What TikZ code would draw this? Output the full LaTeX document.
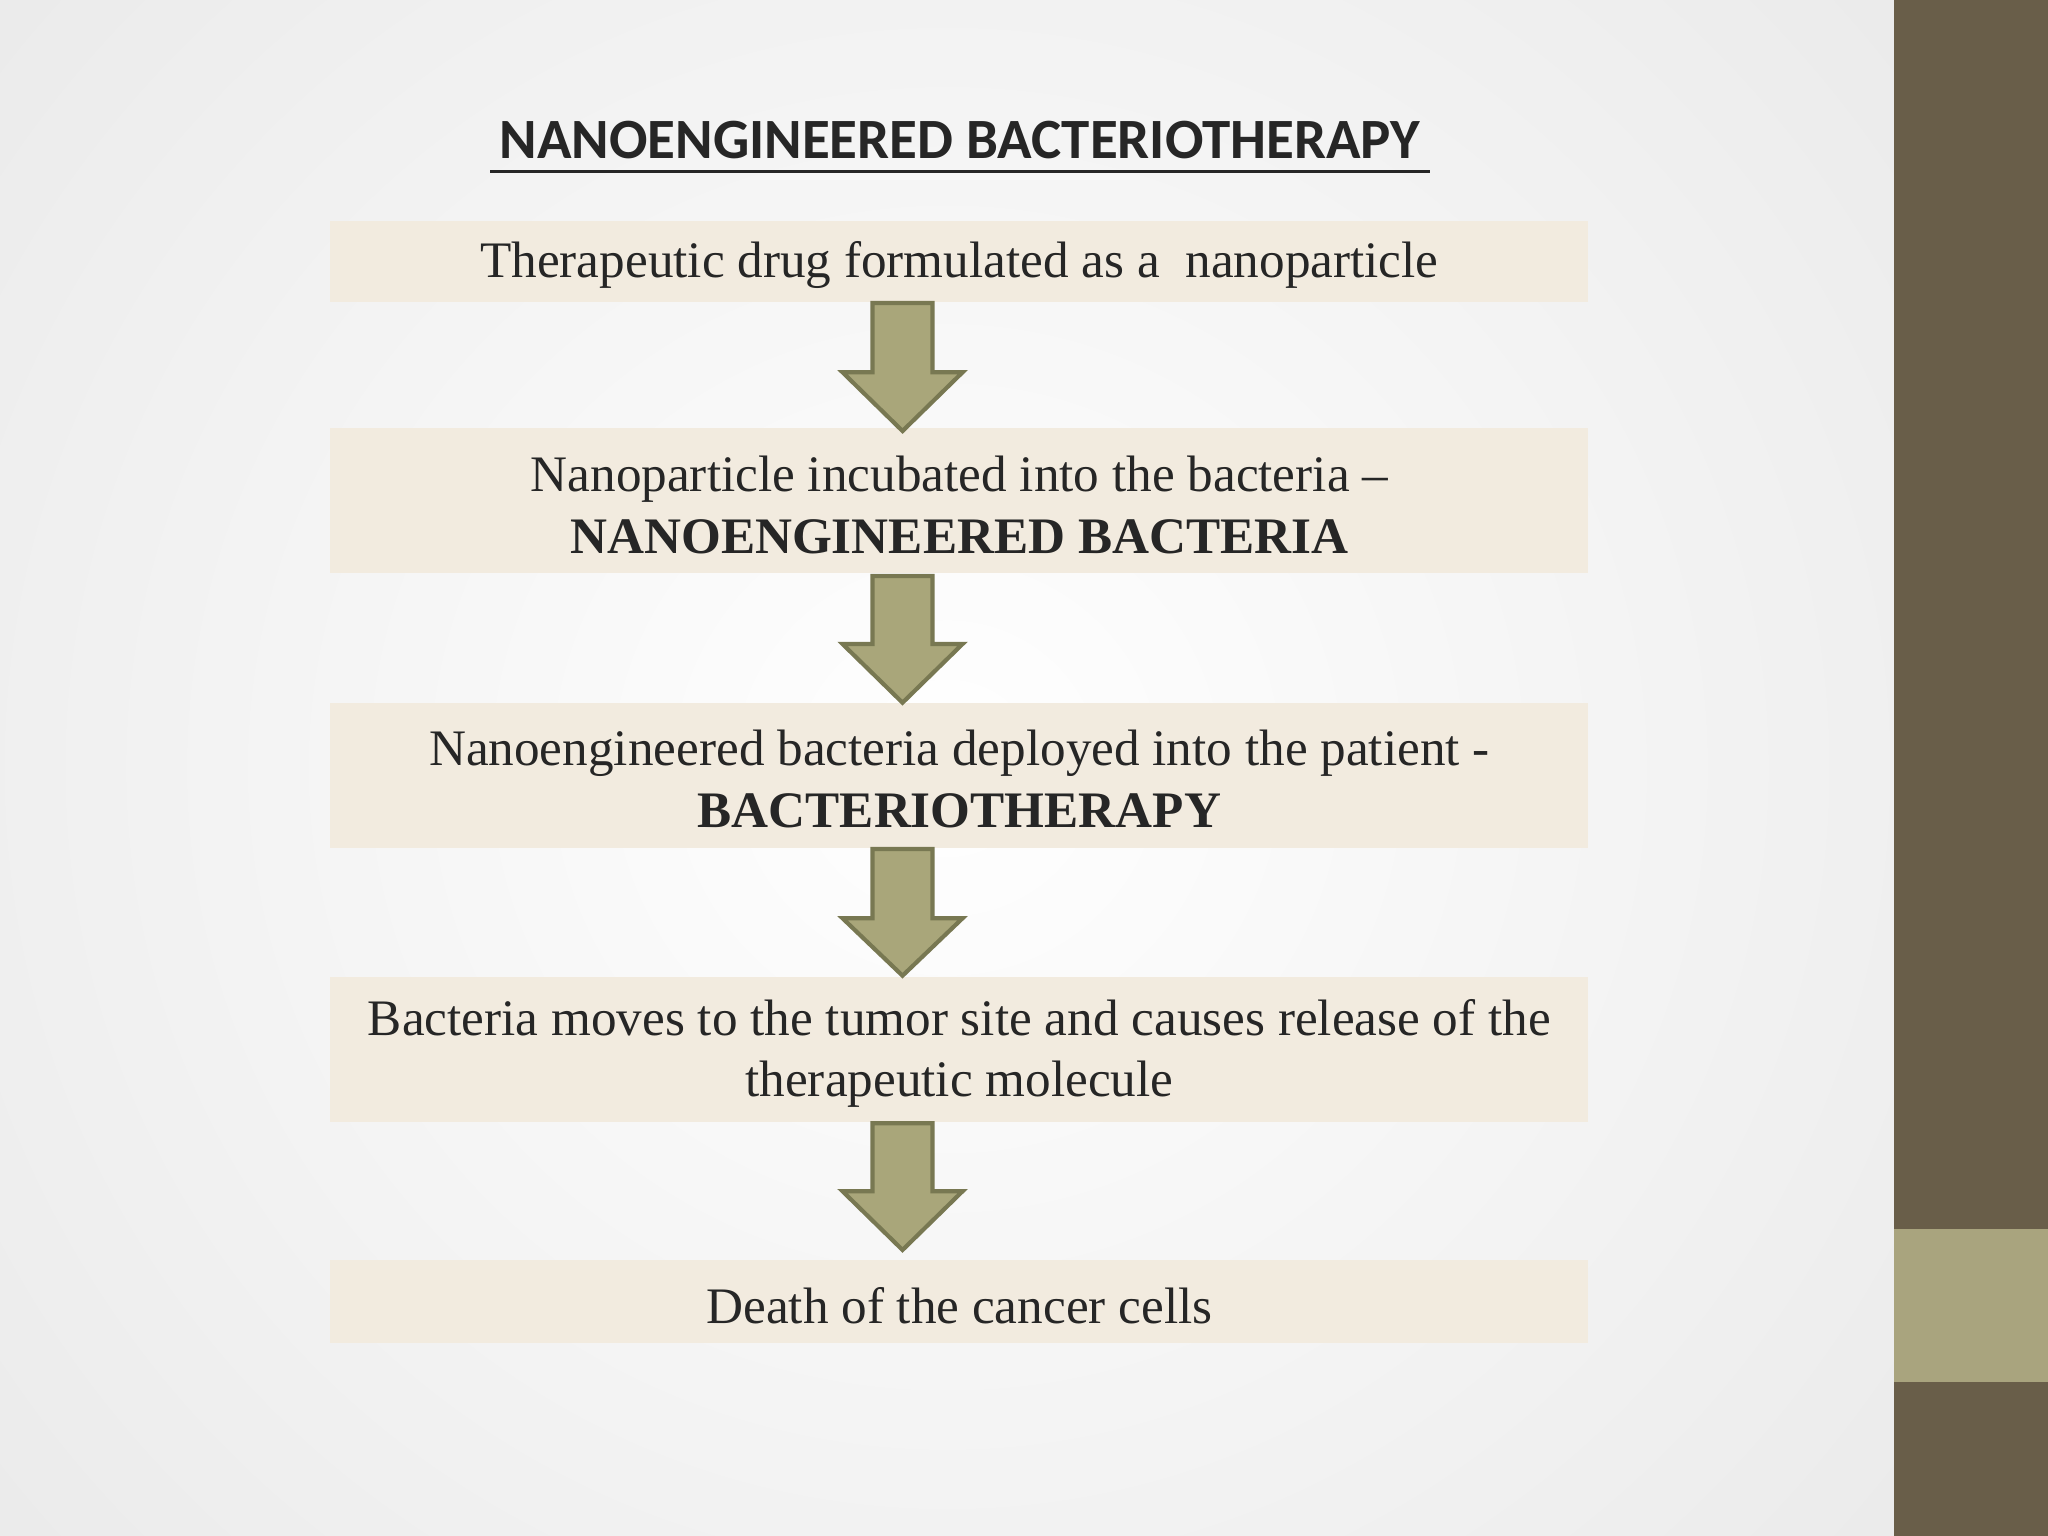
\documentclass[tikz,border=0pt]{standalone}
\usepackage{fontspec}
\setmainfont{Liberation Serif}
\newfontfamily\titlefont{Carlito}
\definecolor{boxfill}{HTML}{F2EBDF}
\definecolor{barDark}{HTML}{695E49}
\definecolor{barLight}{HTML}{A9A47E}
\definecolor{arrFill}{HTML}{A9A67A}
\definecolor{arrLine}{HTML}{787852}
\definecolor{txt}{HTML}{262626}
\begin{document}
\begin{tikzpicture}[x=0.5pt,y=-0.5pt,
  stepbox/.style={fill=boxfill,draw=none,minimum width=481.5pt,inner sep=0pt,align=center,text=txt,font=\fontsize{19.6}{23.5}\selectfont},
  flowarrow/.style={fill=arrFill,draw=arrLine,line width=1.6pt,line join=miter}]
\useasboundingbox (0,0) rectangle (1568,1176);
\begin{scope}
\clip (0,0) rectangle (1450,1176);
\shade[inner color=white,outer color=black!12] (-700,-800) rectangle (2150,1976);
\end{scope}
\fill[barDark] (1450,0) rectangle (1568,1176);
\fill[barLight] (1450,941) rectangle (1568,1058);
\node[text=txt,font=\titlefont\bfseries\fontsize{21.8}{24}\selectfont] (title) at (735,107) {NANOENGINEERED BACTERIOTHERAPY};
\draw[txt,line width=1.2pt] (title.base west) ++(0,10) coordinate (ul1) -- (title.base east |- ul1);
\foreach \n/\y/\h/\txtc in {
  b1/200/31/{Therapeutic drug formulated as a\ \ nanoparticle},
  b2/383.5/55.5/{Nanoparticle incubated into the bacteria --\\\textbf{NANOENGINEERED BACTERIA}},
  b3/593.5/55.5/{Nanoengineered bacteria deployed into the patient -\\\textbf{BACTERIOTHERAPY}},
  b4/803.5/55.5/{Bacteria moves to the tumor site and causes release of the\\therapeutic molecule},
  b5/996.5/31.5/{Death of the cancer cells}}{
  \node[stepbox,minimum height=\h pt] (\n) at (734.5,\y) {};
  \node[align=center,text=txt,font=\fontsize{19.6}{23.5}\selectfont,inner sep=0pt] (\n t) at (734.5,\y+3) {\txtc};
}
\foreach \t/\h/\p in {232/285/330, 441/493/538, 650/703/747, 860/912/957}{
  \draw[flowarrow] (668,\t) -- (714,\t) -- (714,\h) -- (737,\h) -- (691,\p) -- (645,\h) -- (668,\h) -- cycle;
}
\end{tikzpicture}
\end{document}
